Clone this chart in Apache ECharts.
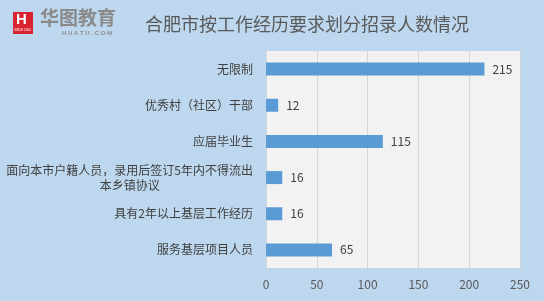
<!DOCTYPE html>
<html>
<head>
<meta charset="utf-8">
<script src="https://cdn.jsdelivr.net/npm/echarts@6/dist/echarts.min.js"></script>
<style>
  html, body { margin: 0; padding: 0; background: #bdd7ee; }
  #chart { width: 544px; height: 301px; }
</style>
</head>
<body>
<div id="chart"></div>
<script>
// categories from bottom to top (echarts category y axis starts at the bottom)
const categories = [
  "服务基层项目人员",
  "具有2年以上基层工作经历",
  "面向本市户籍人员，录用后签订5年内不得流出\n本乡镇协议",
  "应届毕业生",
  "优秀村（社区）干部",
  "无限制"
];
const counts = [65, 16, 16, 115, 12, 215];
const xTicks = [0, 50, 100, 150, 200, 250];

const font = '"Noto Sans CJK SC", "Microsoft YaHei", sans-serif';

const chart = echarts.init(document.getElementById("chart"));
chart.setOption({
  backgroundColor: "#bdd7ee",
  animation: false,
  title: {
    text: "合肥市按工作经历要求划分招录人数情况",
    left: 140,
    top: 10,
    textStyle: { color: "#595959", fontSize: 18, fontWeight: "normal", fontFamily: font }
  },
  graphic: [
    // logo
    { type: "rect", shape: { x: 13, y: 12, width: 20, height: 22 }, style: { fill: "#d9232e" } },
    { type: "text", left: 16, top: 12, style: { text: "H", fill: "#fff", font: "bold 15px sans-serif" } },
    { type: "text", left: 14, top: 29, style: { text: "SINCE 2004", fill: "#fff", font: "3px sans-serif" } },
    { type: "text", left: 40, top: 8, style: { text: "华图教育", fill: "#8a8a8a", font: "bold 19px " + font } },
    { type: "text", left: 62, top: 30, style: { text: "H U A T U . C O M", fill: "#8a8a8a", font: "bold 6px sans-serif" } }
  ],
  grid: {
    left: 266, right: 24, top: 51, bottom: 33,
    show: true, backgroundColor: "#f2f2f3", borderWidth: 0
  },
  xAxis: {
    type: "value",
    min: 0, max: 250, interval: 50,
    axisLine: { show: false },
    axisTick: { show: false },
    splitLine: { lineStyle: { color: "#d6d6d6", width: 1 } },
    axisLabel: {
      color: "#595959", fontSize: 12, fontFamily: font, margin: 10,
      formatter: v => xTicks.includes(v) ? String(v) : ""
    }
  },
  yAxis: {
    type: "category",
    data: categories,
    axisLine: { show: false },
    axisTick: { show: false },
    axisLabel: {
      color: "#404040", fontSize: 12, fontFamily: font, margin: 13,
      formatter: v => v.split("\n").map(s => "{c|" + s + "}").join("\n"),
      rich: { c: { align: "center", fontSize: 12, color: "#404040", fontFamily: font, lineHeight: 15 } }
    }
  },
  series: [{
    type: "bar",
    data: counts,
    barWidth: 13,
    itemStyle: { color: "#5b9bd5" },
    label: {
      show: true, position: "right", distance: 8,
      color: "#404040", fontSize: 12, fontFamily: font
    }
  }]
});
</script>
</body>
</html>
